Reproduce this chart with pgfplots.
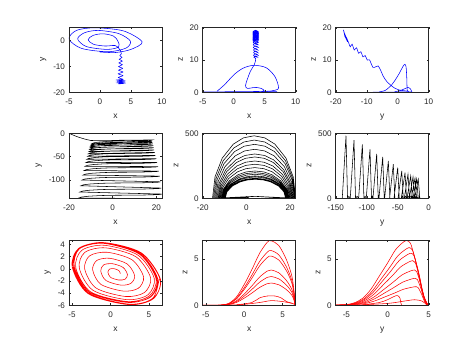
\documentclass[border=0pt]{standalone}
\usepackage{fontspec}
\setmainfont{Liberation Sans}
\usepackage{pgfplots}
\usepackage{pgfplotstable}
\pgfplotsset{compat=1.18}
\definecolor{mgray}{gray}{0.15}
\definecolor{mblue}{rgb}{0,0,1}
\definecolor{mred}{rgb}{1,0,0}
\pgfplotsset{ml/.style={
 scale only axis, width=93pt, height=65pt, anchor=south west,
 axis line style={mgray, line width=0.5pt},
 every tick/.style={mgray, line width=0.4pt},
 major tick length=2.2pt, tick align=inside,
 tick label style={font=\fontsize{8.1}{9}\selectfont, text=mgray},
 xticklabel style={yshift=-3pt},
 yticklabel style={xshift=-0.5pt},
 label style={font=\fontsize{8.5}{9}\selectfont, text=mgray},
 xlabel style={yshift=-3pt},
 /pgf/number format/assume math mode=true,
 every axis plot/.append style={line width=0.55pt},
 axis on top,
}}
\pgfplotstableread{
x y z
-20 0 0
-17.5 -5 0
-15.5 -8.6 0
-12.5 -12.8 0
-10 -15.5 0
4 -15 15
18.0 -14.3 0
17.17 -15.16 49.9
14.76 -15.91 93.9
11.08 -16.47 126.4
7.74 -16.72 141.0
4.15 -16.8 146
0.56 -17.0 141.0
-2.78 -17.6 126.4
-6.46 -18.94 93.9
-8.87 -20.75 49.9
-9.7 -22.8 0
4.2 -19.85 15
18.1 -16.9 0
17.26 -17.76 51.0
14.82 -18.51 95.8
11.1 -19.07 129.0
7.73 -19.32 143.9
4.1 -19.4 149
0.47 -19.6 143.9
-2.9 -20.2 129.0
-6.62 -21.54 95.8
-9.06 -23.35 51.0
-9.9 -25.4 0
4.15 -22.5 15
18.2 -19.6 0
17.35 -20.46 52.7
14.89 -21.21 99.0
11.13 -21.77 133.4
7.71 -22.02 148.8
4.05 -22.1 154
0.39 -22.3 148.8
-3.03 -22.9 133.4
-6.79 -24.24 99.0
-9.25 -26.05 52.7
-10.1 -28.1 0
4.15 -25.45 15
18.4 -22.8 0
17.54 -23.66 56.1
15.04 -24.41 105.5
11.23 -24.97 142.0
7.77 -25.22 158.4
4.05 -25.3 164
0.33 -25.5 158.4
-3.13 -26.1 142.0
-6.94 -27.44 105.5
-9.44 -29.25 56.1
-10.3 -31.3 0
4.15 -28.9 15
18.6 -26.5 0
17.73 -27.36 58.8
15.2 -28.11 110.6
11.33 -28.67 149.0
7.82 -28.92 166.2
4.05 -29.0 172
0.28 -29.2 166.2
-3.23 -29.8 149.0
-7.1 -31.14 110.6
-9.63 -32.95 58.8
-10.5 -35.0 0
4.15 -32.95 15
18.8 -30.9 0
17.91 -31.76 63.3
15.34 -32.51 119.0
11.4 -33.07 160.2
7.83 -33.32 178.7
4.0 -33.4 185
0.17 -33.6 178.7
-3.4 -34.2 160.2
-7.34 -35.54 119.0
-9.91 -37.35 63.3
-10.8 -39.4 0
4.1 -37.55 15
19.0 -35.7 0
18.1 -36.56 67.4
15.48 -37.31 126.7
11.48 -37.87 170.6
7.85 -38.12 190.3
3.95 -38.2 197
0.05 -38.4 190.3
-3.58 -39.0 170.6
-7.58 -40.34 126.7
-10.2 -42.15 67.4
-11.1 -44.2 0
4.1 -42.6 15
19.3 -41.0 0
18.38 -41.86 71.8
15.71 -42.61 135.0
11.63 -43.17 181.9
7.93 -43.42 202.9
3.95 -43.5 210
-0.03 -43.7 202.9
-3.73 -44.3 181.9
-7.81 -45.64 135.0
-10.48 -47.45 71.8
-11.4 -49.5 0
4.1 -48.5 15
19.6 -47.5 0
18.66 -48.36 80.7
15.93 -49.11 151.7
11.75 -49.67 204.4
7.97 -49.92 228.0
3.9 -50.0 236
-0.17 -50.2 228.0
-3.95 -50.8 204.4
-8.13 -52.14 151.7
-10.86 -53.95 80.7
-11.8 -56.0 0
4.1 -55.3 15
20.0 -54.6 0
19.03 -55.46 89.6
16.23 -56.21 168.5
11.95 -56.77 226.9
8.07 -57.02 253.1
3.9 -57.1 262
-0.27 -57.3 253.1
-4.15 -57.9 226.9
-8.43 -59.24 168.5
-11.23 -61.05 89.6
-12.2 -63.1 0
4.1 -62.85 15
20.4 -62.6 0
19.41 -63.46 98.2
16.54 -64.21 184.5
12.15 -64.77 248.5
8.17 -65.02 277.2
3.9 -65.1 287
-0.37 -65.3 277.2
-4.35 -65.9 248.5
-8.74 -67.24 184.5
-11.61 -69.05 98.2
-12.6 -71.1 0
4.1 -71.4 15
20.8 -71.7 0
19.79 -72.56 108.8
16.85 -73.31 204.5
12.35 -73.87 275.4
8.28 -74.12 307.2
3.9 -74.2 318
-0.48 -74.4 307.2
-4.55 -75.0 275.4
-9.05 -76.34 204.5
-11.99 -78.15 108.8
-13.0 -80.2 0
4.1 -80.8 15
21.2 -81.4 0
20.16 -82.26 116.6
17.14 -83.01 219.3
12.53 -83.57 295.3
8.34 -83.82 329.4
3.85 -83.9 341
-0.64 -84.1 329.4
-4.83 -84.7 295.3
-9.44 -86.04 219.3
-12.46 -87.85 116.6
-13.5 -89.9 0
4.05 -91.05 15
21.6 -92.2 0
20.53 -93.06 128.9
17.43 -93.81 242.4
12.7 -94.37 326.5
8.41 -94.62 364.2
3.8 -94.7 377
-0.81 -94.9 364.2
-5.1 -95.5 326.5
-9.83 -96.84 242.4
-12.93 -98.65 128.9
-14.0 -100.7 0
4.0 -102.6 15
22.0 -104.5 0
20.91 -105.36 141.9
17.73 -106.11 266.8
12.88 -106.67 359.4
8.48 -106.92 400.9
3.75 -107.0 415
-0.98 -107.2 400.9
-5.38 -107.8 359.4
-10.23 -109.14 266.8
-13.41 -110.95 141.9
-14.5 -113.0 0
3.9 -115.5 15
22.3 -118.0 0
21.18 -118.86 153.2
17.94 -119.61 288.1
12.98 -120.17 388.0
8.48 -120.42 432.8
3.65 -120.5 448
-1.18 -120.7 432.8
-5.68 -121.3 388.0
-10.64 -122.64 288.1
-13.88 -124.45 153.2
-15.0 -126.5 0
3.8 -128.7 15
22.6 -130.9 0
21.46 -131.76 164.5
18.14 -132.51 309.3
13.08 -133.07 416.5
8.48 -133.32 464.6
3.55 -133.4 481
-1.38 -133.6 464.6
-5.98 -134.2 416.5
-11.04 -135.54 309.3
-14.36 -137.35 164.5
-15.5 -139.4 0
1.0 -139.8 5
}\blk
\begin{document}
\begin{tikzpicture}
\useasboundingbox (0,0) rectangle (474pt,355pt);
% ---------- row 1 (blue) ----------
\begin{axis}[ml, at={(69pt,262.7pt)}, xmin=-5, xmax=10, ymin=-20, ymax=5,
  xtick={-5,0,5,10}, ytick={-20,-10,0}, xlabel={x}, ylabel={y}]
\addplot[mblue] coordinates {(2.95,-16.8)(3.75,-16.6)(2.95,-16.4)(3.75,-16.2)(2.95,-16.0)(3.75,-15.8)(2.95,-15.6)(3.75,-15.4)(2.95,-15.2)(3.75,-15.0)};
\addplot[mblue, smooth] coordinates {(3.75,-15.0)(2.95,-14.3)(3.7,-13.6)(2.95,-12.9)(3.7,-12.2)(3.0,-11.5)(3.65,-10.8)(3.0,-10.1)(3.6,-9.4)(3.05,-8.7)(3.6,-8.0)(3.1,-7.3)(3.55,-6.6)(3.2,-5.9)(3.45,-5.2)(3.35,-4.2)(3.0,-3.0)(2.4,-2.0)(0.8,-2.2)(-1.1,-1.5)(-1.9,0.3)(-1.1,1.9)(0.5,2.5)(2.2,1.6)(2.9,-0.4)(3.0,-2.6)(1.1,-3.5)(-2.2,-2.4)(-3.6,0.5)(-2.5,2.9)(-0.3,3.8)(3.0,2.6)(4.9,-0.3)(4.2,-3.0)(1.3,-4.4)(-3.0,-3.1)(-5.0,0.5)(-3.8,3.8)(-0.8,4.8)(3.8,3.6)(6.8,-0.6)(5.0,-3.5)(2.5,-4.7)(0,-4.5)};
\end{axis}
\begin{axis}[ml, at={(202.7pt,262.7pt)}, xmin=-5, xmax=10, ymin=0, ymax=20,
  xtick={-5,0,5,10}, ytick={0,10,20}, xlabel={x}, ylabel={z}]
\addplot[mblue, smooth] coordinates {(4.0,18.6)(3.55,19.1)(3.1,18.6)(3.55,18.1)(4.0,18.3)(3.55,18.8)(3.1,18.3)(3.55,17.8)(4.0,18.0)(3.55,18.5)(3.1,18.0)(3.55,17.5)(4.0,17.7)(3.55,18.2)(3.1,17.7)(3.55,17.2)(4.0,17.4)(3.55,17.9)(3.1,17.4)(3.55,16.9)(4.0,17.1)(3.55,17.6)(3.1,17.1)(3.55,16.6)(4.0,16.8)(3.55,17.3)(3.1,16.8)(3.55,16.3)(4.0,16.5)(3.55,17.0)(3.1,16.5)(3.55,16.0)(4.0,16.2)(3.55,16.7)(3.1,16.2)(3.55,15.7)(4.0,15.8)(3.55,16.3)(3.1,15.8)(3.55,15.3)(3.95,15.3)(3.55,15.8)(3.15,15.3)(3.55,14.8)(3.95,14.6)(3.55,15.1)(3.15,14.6)(3.55,14.1)(3.95,13.8)(3.55,14.3)(3.15,13.8)(3.55,13.3)(3.9,13.0)(3.55,13.5)(3.2,13.0)(3.55,12.5)(3.9,12.2)(3.55,12.7)(3.2,12.2)(3.55,11.7)(3.9,11.4)(3.55,11.9)(3.2,11.4)(3.55,10.9)(3.85,10.8)(3.55,11.2)(3.25,10.8)(3.55,10.4)(3.5,9.5)(3.3,8.4)(2.7,6.5)(2.2,4.0)(1.9,2.0)(2.2,1.2)(3.0,1.4)(3.6,1.5)(4.4,1.2)(4.9,0.6)(4.5,0.2)};
\addplot[mblue, smooth] coordinates {(-2.7,0.3)(-1.5,2.3)(0.1,5.5)(1.5,7.4)(3.2,8.3)(5.2,7.6)(6.6,5.0)(7.2,2.0)(7.1,0.9)(6.0,0.4)(4.5,0.25)};
\addplot[mblue] coordinates {(-5,0.1)(7,0.3)};
\end{axis}
\begin{axis}[ml, at={(335.7pt,262.7pt)}, xmin=-20, xmax=10, ymin=0, ymax=20,
  xtick={-20,-10,0,10}, ytick={0,10,20}, xlabel={y}, ylabel={z}]
\addplot[mblue] coordinates {(-17.5,19.2)(-17.0,17.0)(-17.4,18.9)(-16.8,16.7)(-17.3,18.5)(-16.6,16.3)(-17.1,18.1)(-16.4,15.9)(-16.9,17.6)(-16.2,15.5)(-16.6,17.0)(-15.8,15.2)};
\addplot[mblue, smooth] coordinates {(-15.8,15.2)(-15.3,14.0)(-14.7,14.8)(-14.0,13.0)(-13.3,13.7)(-12.6,12.0)(-11.9,12.5)(-11.2,10.9)(-10.5,11.3)(-9.8,9.9)(-9.1,10.0)(-8.0,7.7)(-7.0,7.9)(-6.3,8.1)(-5.5,6.8)(-4.7,5.0)(-3.5,3.3)(-2.0,2.0)(-0.8,1.2)(0.5,0.7)(2.0,0.5)(3.5,0.3)};
\addplot[mblue, smooth] coordinates {(-6,0.1)(-4,0.6)(-2,2.2)(-1,3.5)(0.5,5.8)(1.6,7.8)(2.3,8.6)(2.7,7.8)(2.9,5.0)(3.0,2.0)(3.1,0.5)(3.5,0.2)};
\addplot[mblue, smooth] coordinates {(-1.0,0.15)(1.0,0.6)(2.5,1.2)(3.3,1.5)(4.0,1.2)(4.4,0.5)(4.6,0.1)};
\addplot[mblue] coordinates {(-8,0.05)(4.6,0.1)};
\end{axis}
% ---------- row 2 (black) ----------
\begin{axis}[ml, at={(69pt,156.7pt)}, xmin=-20, xmax=22.6, ymin=-140, ymax=0,
  xtick={-20,0,20}, ytick={-100,-50,0}, xlabel={x}, ylabel={y}]
\addplot[black] table[x=x,y=y]{\blk};
\end{axis}
\begin{axis}[ml, at={(202.7pt,156.7pt)}, xmin=-20, xmax=22.6, ymin=0, ymax=500,
  xtick={-20,0,20}, ytick={0,500}, xlabel={x}, ylabel={z}]
\addplot[black] table[x=x,y=z]{\blk};
\end{axis}
\begin{axis}[ml, at={(335.7pt,156.7pt)}, xmin=-150, xmax=0, ymin=0, ymax=500,
  xtick={-150,-100,-50,0}, ytick={0,500}, xlabel={y}, ylabel={z}]
\addplot[black] table[x=y,y=z]{\blk};
\end{axis}
% ---------- row 3 (red) ----------
\begin{axis}[ml, at={(69pt,49.7pt)}, xmin=-5.4, xmax=6.7, ymin=-6, ymax=4.7,
  xtick={-5,0,5}, ytick={-6,-4,-2,0,2,4}, xlabel={x}, ylabel={y}]
\addplot[mred, smooth] coordinates {
(1.28,-0.80)(1.10,-0.29)(0.46,0.03)(-0.10,-0.03)(-0.34,-0.52)(-0.02,-1.38)(1.07,-1.84)(1.88,-1.71)
(2.21,-0.96)(1.62,0.25)(0.19,0.86)(-0.90,0.64)(-1.27,-0.36)(-0.60,-1.92)(1.35,-2.68)(2.66,-2.38)
(3.14,-1.12)(2.17,0.81)(-0.10,1.74)(-1.78,1.38)(-2.32,-0.18)(-1.26,-2.55)(1.67,-3.66)(3.62,-3.20)
(4.30,-1.32)(2.81,1.48)(-0.42,2.73)(-2.70,2.16)(-3.36,0.00)(-1.89,-3.15)(1.96,-4.55)(4.42,-3.89)
(5.22,-1.48)(3.31,1.99)(-0.66,3.46)(-3.35,2.70)(-4.06,0.12)(-2.29,-3.52)(2.13,-5.07)(4.87,-4.27)
(5.69,-1.56)(3.57,2.26)(-0.80,3.88)(-3.75,3.04)(-4.52,0.20)(-2.58,-3.79)(2.26,-5.48)(5.26,-4.61)
(6.15,-1.64)(3.84,2.53)(-0.93,4.29)(-4.15,3.37)(-4.98,0.28)(-2.86,-4.07)(2.40,-5.90)(5.60,-4.90)
(6.44,-1.69)(3.93,2.63)(-0.95,4.34)(-4.10,3.33)(-4.81,0.25)(-2.68,-3.90)(2.28,-5.54)(5.21,-4.56)
(6.04,-1.62)(3.77,2.46)(-0.90,4.19)(-4.05,3.29)(-4.87,0.26)(-2.79,-4.00)(2.37,-5.80)(5.55,-4.86)
(6.50,-1.70)(3.97,2.67)(-0.95,4.34)(-4.05,3.29)(-4.69,0.23)(-2.58,-3.79)(2.23,-5.38)(5.06,-4.44)
(5.92,-1.60)(3.74,2.43)(-0.90,4.19)(-4.10,3.33)(-4.98,0.28)(-2.90,-4.10)(2.40,-5.90)(5.50,-4.82)(6.33,-1.67)};
\end{axis}
\begin{axis}[ml, at={(202.7pt,49.7pt)}, xmin=-5.4, xmax=6.7, ymin=0, ymax=7,
  xtick={-5,0,5}, ytick={0,5}, xlabel={x}, ylabel={z}]
\addplot[mred, smooth] coordinates {(-5.4,0.02)(-3,0.04)(-2,0.21)(-1,0.91)(0,2.24)(1,3.85)(2,5.6)(3,6.79)(3.5,6.95)(4.5,6.44)(5.5,4.9)(6.2,3.15)(6.5,1.4)(6.6,0.1)};
\addplot[mred, smooth] coordinates {(-5.4,0.02)(-3,0.03)(-2,0.18)(-1,0.77)(0,1.89)(1,3.25)(2,4.72)(3,5.72)(3.5,5.9)(4.5,5.43)(5.5,4.13)(6.2,2.66)(6.5,1.18)(6.6,0.1)};
\addplot[mred, smooth] coordinates {(-3,0.02)(-2,0.16)(-1,0.69)(0,1.70)(1,2.92)(2,4.24)(3,5.14)(3.5,5.3)(4.5,4.88)(5.5,3.71)(6.2,2.39)(6.5,1.06)(6.6,0.1)};
\addplot[mred, smooth] coordinates {(-3,0.02)(-2,0.11)(-1,0.49)(0,1.22)(1,2.09)(2,3.04)(3,3.69)(3.5,3.8)(4.5,3.5)(5.5,2.66)(6.2,1.71)(6.5,0.76)(6.6,0.1)};
\addplot[mred, smooth] coordinates {(-3,0.02)(-2,0.09)(-1,0.40)(0,0.99)(1,1.71)(2,2.48)(3,3.01)(3.5,3.1)(4.5,2.85)(5.5,2.17)(6.2,1.40)(6.5,0.62)(6.6,0.1)};
\addplot[mred, smooth] coordinates {(-3,0.02)(-2,0.07)(-1,0.31)(0,0.77)(1,1.32)(2,1.92)(3,2.33)(3.5,2.4)(4.5,2.21)(5.5,1.68)(6.2,1.08)(6.5,0.48)(6.6,0.1)};
\addplot[mred, smooth] coordinates {(-1,0.05)(1,0.3)(2,0.8)(3,1.0)(4,1.0)(4.8,0.8)(5.5,0.4)(6.3,0.2)(6.6,0.05)};
\addplot[mred, smooth] coordinates {(-2,0.02)(0,0.1)(2,0.3)(3.5,0.5)(5,0.4)(6.3,0.2)};
\addplot[mred] coordinates {(-5.4,0.03)(6.7,0.03)};
\end{axis}
\begin{axis}[ml, at={(335.7pt,49.7pt)}, xmin=-6.3, xmax=5, ymin=0, ymax=7,
  xtick={-5,0,5}, ytick={0,5}, xlabel={y}, ylabel={z}]
\addplot[mred, smooth] coordinates {(-6.3,0.02)(-5,0.07)(-4,0.28)(-3,0.77)(-2,1.75)(-1,3.15)(0,4.55)(1,6.02)(2,6.86)(2.4,6.95)(2.8,6.65)(3.2,5.46)(3.6,4.06)(4.0,2.31)(4.4,0.98)(4.8,0.21)(5.0,0.02)};
\addplot[mred, smooth] coordinates {(-6.3,0.02)(-4.96,0.06)(-3.92,0.25)(-2.89,0.68)(-1.85,1.55)(-0.82,2.79)(0.22,4.03)(1.25,5.33)(2.29,6.08)(2.7,6.2)(3.05,5.89)(3.40,4.84)(3.75,3.60)(4.10,2.05)(4.45,0.87)(4.80,0.19)(5.0,0.02)};
\addplot[mred, smooth] coordinates {(-6.3,0.02)(-4.93,0.06)(-3.87,0.22)(-2.81,0.62)(-1.75,1.40)(-0.70,2.52)(0.36,3.64)(1.42,4.82)(2.48,5.49)(2.9,5.6)(3.22,5.32)(3.53,4.37)(3.85,3.25)(4.17,1.85)(4.48,0.78)(4.80,0.17)(5.0,0.02)};
\addplot[mred, smooth] coordinates {(-6.3,0.02)(-4.90,0.05)(-3.81,0.19)(-2.73,0.53)(-1.65,1.2)(-0.57,2.16)(0.51,3.12)(1.59,4.13)(2.67,4.70)(3.1,4.8)(3.38,4.56)(3.67,3.74)(3.95,2.78)(4.23,1.58)(4.52,0.67)(4.80,0.14)(5.0,0.02)};
\addplot[mred, smooth] coordinates {(-6.3,0.02)(-4.87,0.04)(-3.76,0.15)(-2.66,0.42)(-1.56,0.95)(-0.45,1.71)(0.65,2.47)(1.76,3.27)(2.86,3.72)(3.3,3.8)(3.55,3.61)(3.80,2.96)(4.05,2.20)(4.30,1.25)(4.55,0.53)(4.80,0.11)(5.0,0.02)};
\addplot[mred, smooth] coordinates {(-6.3,0.02)(-4.85,0.03)(-3.74,0.12)(-2.62,0.32)(-1.51,0.73)(-0.39,1.31)(0.72,1.89)(1.84,2.49)(2.95,2.84)(3.4,2.9)(3.63,2.76)(3.87,2.26)(4.10,1.68)(4.33,0.96)(4.57,0.41)(4.80,0.09)(5.0,0.02)};
\addplot[mred, smooth] coordinates {(-6.3,0.02)(-4.84,0.02)(-3.71,0.08)(-2.58,0.22)(-1.46,0.5)(-0.33,0.9)(0.80,1.3)(1.92,1.72)(3.05,1.96)(3.5,2.0)(3.72,1.9)(3.93,1.56)(4.15,1.16)(4.37,0.66)(4.58,0.28)(4.80,0.06)(5.0,0.02)};
\addplot[mred, smooth] coordinates {(-3,0.05)(-1,0.3)(0,0.6)(0.8,0.95)(1.2,1.05)(1.5,0.8)(1.6,0.3)(1.7,0.05)};
\addplot[mred, smooth] coordinates {(-4,0.02)(0,0.2)(2,0.45)(3.3,0.6)(4.2,0.45)(4.7,0.1)(5,0.02)};
\addplot[mred] coordinates {(-6.3,0.03)(5,0.03)};
\end{axis}
\end{tikzpicture}
\end{document}
